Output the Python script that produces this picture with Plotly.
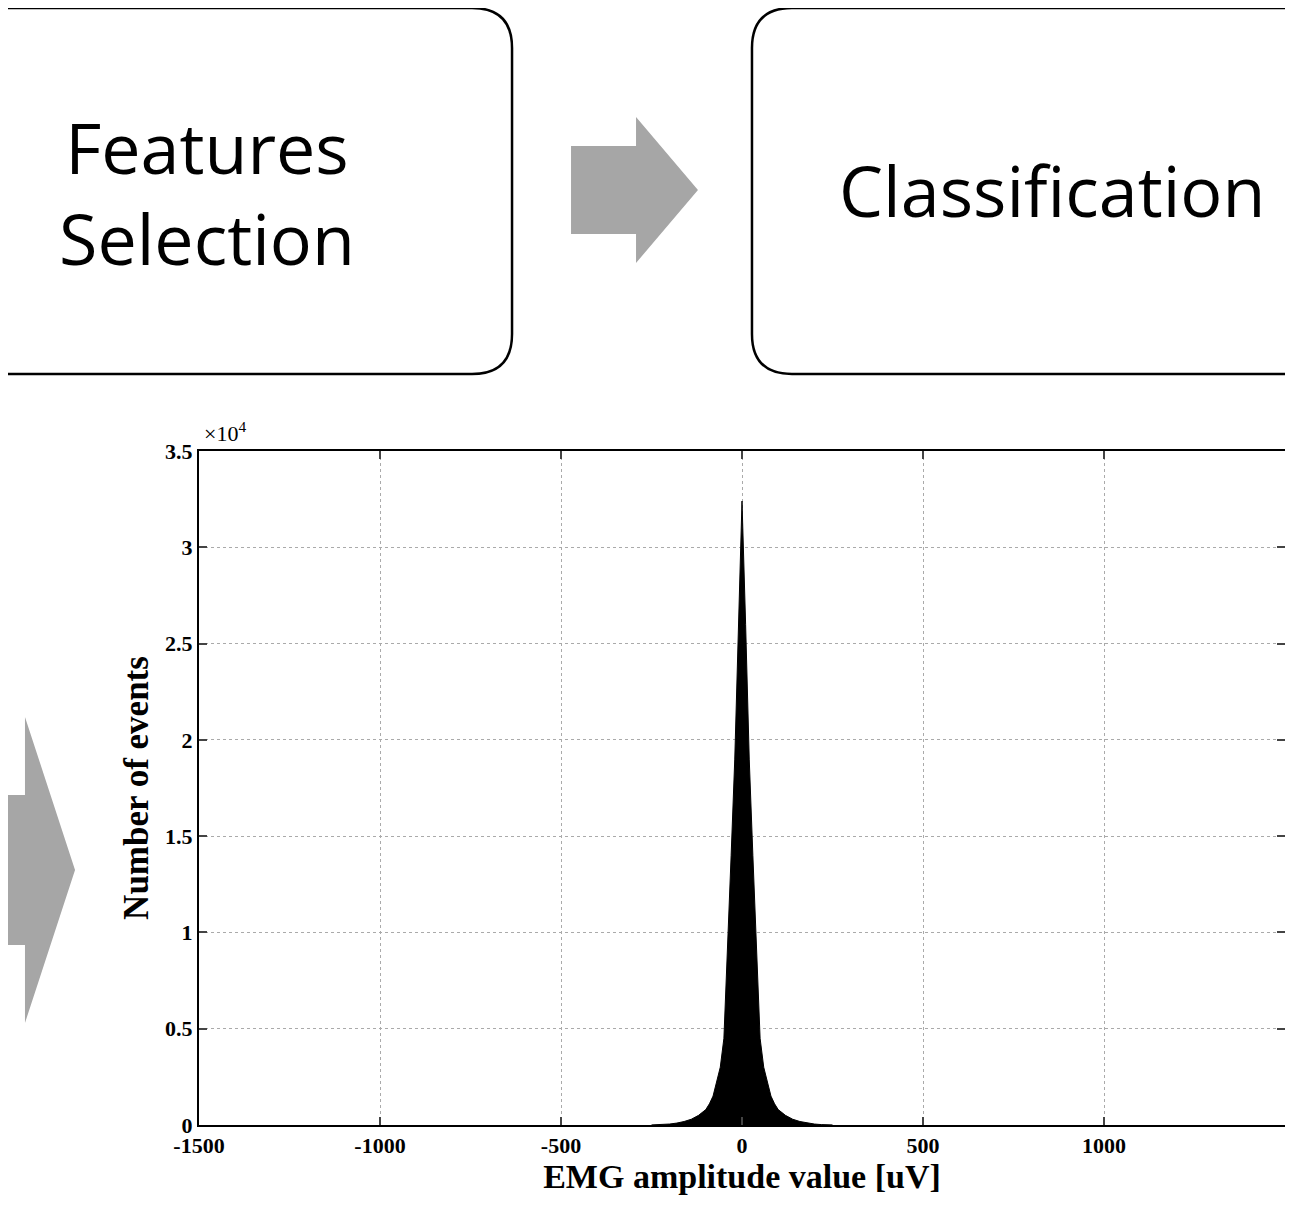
import plotly.graph_objects as go

W, H = 1293, 1225
OFF = 8  # page margin around the figure
FW, FH = W - 2 * OFF, H - 2 * OFF

# histogram of EMG amplitudes (bin centres in uV, counts)
amplitude = [-250, -220, -200, -180, -160, -140, -120, -100, -90, -80, -70, -60, -50, -40, -30, -20, -10, 0,
             10, 20, 30, 40, 50, 60, 70, 80, 90, 100, 120, 140, 160, 180, 200, 220, 250]
counts = [5, 20, 50, 100, 180, 300, 500, 800, 1100, 1500, 2200, 3000, 4500, 9000, 14000, 19000, 26000, 32400,
          26000, 19000, 14000, 9000, 4500, 3000, 2200, 1500, 1100, 800, 500, 300, 180, 100, 50, 20, 5]

x_ticks = [-1500, -1000, -500, 0, 500, 1000, 1500]
x_labels = ["-1500", "-1000", "-500", "0", "500", "1000", "1500"]
y_ticks = [0, 5000, 10000, 15000, 20000, 25000, 30000, 35000]
y_labels = ["0", "0.5", "1", "1.5", "2", "2.5", "3", "3.5"]


def px(x, y):
    return (x - OFF) / FW, 1 - (y - OFF) / FH


def path(points):
    s = ""
    for i, (x, y) in enumerate(points):
        a, b = px(x, y)
        s += ("M" if i == 0 else "L") + f"{a:.4f},{b:.4f} "
    return s + "Z"


def rounded_box(x0, y0, x1, y1, r):
    pts = [(x0 + r, y0), (x1 - r, y0), ("Q", x1, y0, x1, y0 + r), (x1, y1 - r),
           ("Q", x1, y1, x1 - r, y1), (x0 + r, y1), ("Q", x0, y1, x0, y1 - r),
           (x0, y0 + r), ("Q", x0, y0, x0 + r, y0)]
    s = ""
    for i, p in enumerate(pts):
        if p[0] == "Q":
            a, b = px(p[1], p[2])
            c, d = px(p[3], p[4])
            s += f"Q{a:.4f},{b:.4f} {c:.4f},{d:.4f} "
        else:
            a, b = px(*p)
            s += ("M" if i == 0 else "L") + f"{a:.4f},{b:.4f} "
    return s + "Z"


fig = go.Figure()
fig.add_trace(go.Scatter(
    x=amplitude, y=counts, mode="lines", fill="tozeroy",
    line=dict(color="black", width=1), fillcolor="black", showlegend=False,
))

serif = "Liberation Serif"
axis_common = dict(
    ticks="inside", ticklen=8, tickwidth=2, mirror="ticks", showline=True,
    linecolor="black", linewidth=2, showgrid=True, gridcolor="#aaaaaa",
    griddash="dot", gridwidth=1, zeroline=False, automargin=False,
    tickfont=dict(family=serif, size=22, color="black"),
)
fig.update_layout(
    width=FW, height=FH, margin=dict(l=0, r=0, t=0, b=0, autoexpand=False),
    paper_bgcolor="white", plot_bgcolor="white",
    xaxis=dict(domain=[px(199, 0)[0], min(px(1291, 0)[0], 1)], range=[-1500, 1500], tickvals=x_ticks,
               ticktext=[f"<b>{t}</b>" for t in x_labels],
               title=dict(text="<b>EMG amplitude value [uV]</b>",
                          font=dict(family=serif, size=34, color="black"), standoff=4),
               **axis_common),
    yaxis=dict(domain=[px(0, 1125)[1], px(0, 451)[1]], range=[0, 35000], tickvals=y_ticks,
               ticktext=[f"<b>{t}</b>" for t in y_labels],
               title=dict(text="<b>Number of events</b>",
                          font=dict(family=serif, size=35, color="black"), standoff=6),
               **axis_common),
)

xa, ya = px(202, 448)
fig.add_annotation(text="×10<sup>4</sup>", x=xa, y=ya, xref="paper", yref="paper",
                   xanchor="left", yanchor="bottom", showarrow=False,
                   font=dict(family=serif, size=22, color="black"))

# flow-diagram boxes
for x0, x1 in [(-60, 512), (752, 1360)]:
    fig.add_shape(type="path", xref="paper", yref="paper", path=rounded_box(x0, 8, x1, 374, 40),
                  line=dict(color="black", width=2.5), fillcolor="rgba(0,0,0,0)")
xa, ya = px(207, 192)
fig.add_annotation(text="Features<br>Selection", x=xa, y=ya, xref="paper", yref="paper",
                   xanchor="center", yanchor="middle", showarrow=False,
                   font=dict(family="Open Sans", size=70, color="black"))
xa, ya = px(1052, 190)
fig.add_annotation(text="Classification", x=xa, y=ya, xref="paper", yref="paper",
                   xanchor="center", yanchor="middle", showarrow=False,
                   font=dict(family="Open Sans", size=70, color="black"))

# grey arrows
arrow_right = [(571, 146), (636, 146), (636, 117), (698, 190), (636, 263), (636, 234), (571, 234)]
arrow_left = [(-10, 795), (25, 795), (25, 717), (75, 870), (25, 1023), (25, 945), (-10, 945)]
for pts in (arrow_right, arrow_left):
    fig.add_shape(type="path", xref="paper", yref="paper", path=path(pts),
                  fillcolor="#a6a6a6", line=dict(width=0))

fig.write_html("out.html")
